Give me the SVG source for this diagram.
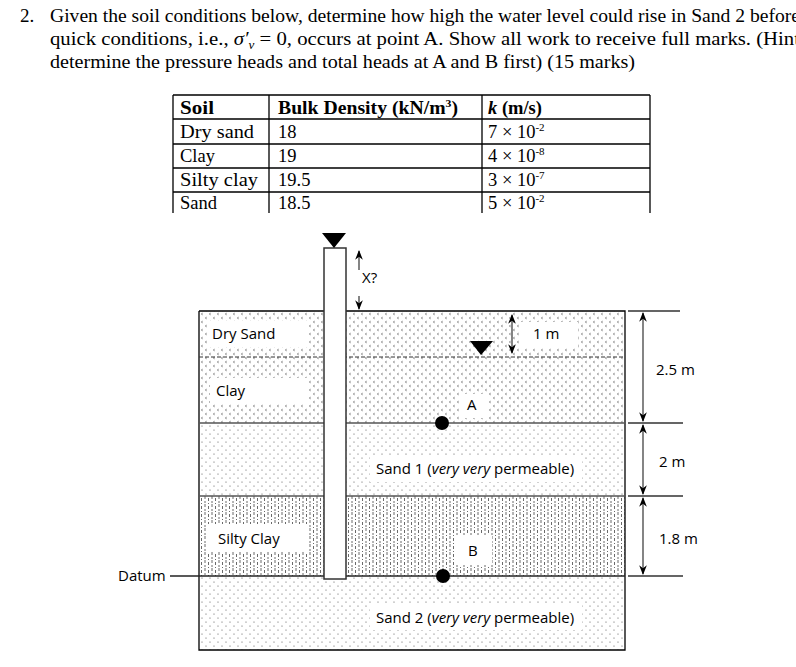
<svg xmlns="http://www.w3.org/2000/svg" width="796" height="667" viewBox="0 0 796 667">
<style>
.q{font-family:"Liberation Serif",serif;font-size:19px;fill:#000}
.t{font-family:"Liberation Serif",serif;font-size:18.5px;fill:#000}
.s{font-family:"Open Sans","DejaVu Sans",sans-serif;font-size:15px;fill:#000}
.ln{stroke:#000;stroke-width:1.3;fill:none}
.dim{stroke:#333;stroke-width:1.2;fill:none}
.bg{fill:#fff}
</style>
<defs>
<pattern id="pc" width="8" height="8" patternUnits="userSpaceOnUse">
<rect width="8" height="8" fill="#fff"/>
<path d="M3 1 L1 2 L3 3 M7 5 L5 6 L7 7" stroke="#777" stroke-width="0.6" fill="none"/>
</pattern>
<pattern id="pd" width="8" height="8" patternUnits="userSpaceOnUse">
<rect width="8" height="8" fill="#fff"/>
<circle cx="2" cy="2" r="0.6" fill="#555"/><circle cx="6" cy="6" r="0.6" fill="#555"/>
</pattern>
<pattern id="pv" width="7" height="8" patternUnits="userSpaceOnUse">
<rect width="7" height="8" fill="#fff"/>
<path d="M2 0 V3 M2 5 V7 M5.5 2 V5 M5.5 7 V8" stroke="#444" stroke-width="0.8"/>
</pattern>
<marker id="ar" viewBox="0 0 10 10" refX="9" refY="5" markerWidth="8" markerHeight="8" orient="auto-start-reverse">
<path d="M0 1 L10 5 L0 9 L3 5 Z" fill="#000"/>
</marker>
</defs>

<g id="question">
<text class="q" x="20" y="22">2.</text>
<text class="q" x="50" y="22" textLength="750" lengthAdjust="spacingAndGlyphs">Given the soil conditions below, determine how high the water level could rise in Sand 2 before</text>
<text class="q" x="50" y="45" textLength="750" lengthAdjust="spacingAndGlyphs">quick conditions, i.e., <tspan font-style="italic">σ′<tspan font-size="12" dy="4">v</tspan></tspan><tspan dy="-4"> = 0, occurs at point A. Show all work to receive full marks. (Hint</tspan></text>
<text class="q" x="50" y="68" textLength="585" lengthAdjust="spacingAndGlyphs">determine the pressure heads and total heads at A and B first) (15 marks)</text>
</g>

<g id="table">
<path class="ln" d="M173 95 H650 M173 119 H650 M173 144 H650 M173 168 H650 M173 192 H650 M173 95 V213 M269 95 V213 M482 95 V213 M650 95 V213"/>
<text class="t" x="180" y="114" font-weight="bold" textLength="34" lengthAdjust="spacingAndGlyphs">Soil</text>
<text class="t" x="278" y="114" font-weight="bold" textLength="180" lengthAdjust="spacingAndGlyphs">Bulk Density (kN/m<tspan font-size="11" dy="-7">3</tspan><tspan dy="7">)</tspan></text>
<text class="t" x="488" y="114" font-weight="bold"><tspan font-style="italic">k</tspan> (m/s)</text>
<text class="t" x="180" y="138" textLength="74" lengthAdjust="spacingAndGlyphs">Dry sand</text>
<text class="t" x="180" y="162">Clay</text>
<text class="t" x="180" y="186" textLength="78" lengthAdjust="spacingAndGlyphs">Silty clay</text>
<text class="t" x="180" y="209">Sand</text>
<text class="t" x="278" y="138">18</text>
<text class="t" x="278" y="162">19</text>
<text class="t" x="278" y="186">19.5</text>
<text class="t" x="278" y="209">18.5</text>
<text class="t" x="488" y="138">7 × 10<tspan font-size="11" dy="-7">-2</tspan></text>
<text class="t" x="488" y="162">4 × 10<tspan font-size="11" dy="-7">-8</tspan></text>
<text class="t" x="488" y="186">3 × 10<tspan font-size="11" dy="-7">-7</tspan></text>
<text class="t" x="488" y="209">5 × 10<tspan font-size="11" dy="-7">-2</tspan></text>
</g>

<g id="layers">
<rect x="199" y="311" width="426" height="112" fill="url(#pc)"/>
<rect x="199" y="423" width="426" height="73" fill="url(#pd)"/>
<rect x="199" y="496" width="426" height="80" fill="url(#pv)"/>
<rect x="199" y="576" width="426" height="74" fill="url(#pd)"/>
<path class="ln" d="M199 311 V650 H625 V311 H199" stroke="#333"/>
<path d="M199 357 H625" stroke="#333" stroke-width="1" stroke-dasharray="4 2"/>
<path d="M199 423 H625 M199 496 H625" stroke="#555" stroke-width="1.5"/>
</g>

<g id="labels">
<rect class="bg" x="208" y="321" width="100" height="26"/><text class="s" x="212" y="339">Dry Sand</text>
<rect class="bg" x="210" y="378" width="98" height="26"/><text class="s" x="216" y="396">Clay</text>
<rect class="bg" x="460" y="394" width="28" height="24"/><text class="s" x="467" y="410">A</text>
<rect class="bg" x="520" y="322" width="58" height="26"/><text class="s" x="533" y="339">1 m</text>
<rect class="bg" x="370" y="456" width="212" height="26"/><text class="s" x="376" y="474">Sand 1 (<tspan font-style="italic">very very</tspan> permeable)</text>
<rect class="bg" x="208" y="524" width="100" height="28"/><text class="s" x="218" y="544">Silty Clay</text>
<rect class="bg" x="456" y="535" width="36" height="30"/><text class="s" x="468" y="556">B</text>
<rect class="bg" x="370" y="604" width="212" height="26"/><text class="s" x="376" y="623">Sand 2 (<tspan font-style="italic">very very</tspan> permeable)</text>
</g>

<g id="datum">
<text class="s" x="118" y="581">Datum</text>
<path d="M170 576 H625" stroke="#222" stroke-width="1.5"/>
</g>

<g id="piezometer">
<rect x="324" y="248" width="22" height="331" fill="#fff" stroke="#333" stroke-width="1.5"/>
<path d="M322 233 H346 L334 248 Z" fill="#000"/>
</g>

<g id="watertable">
<path d="M470 341 H493 L481 355 Z" fill="#000"/>
</g>

<g id="points">
<circle cx="442" cy="423" r="7" fill="#000"/>
<circle cx="443" cy="576" r="7" fill="#000"/>
</g>

<g id="connectors">
<path class="dim" d="M359 270 V251" marker-end="url(#ar)"/>
<path class="dim" d="M359 296 V309" marker-end="url(#ar)"/>
<path class="dim" d="M512 315 V353" marker-start="url(#ar)" marker-end="url(#ar)" stroke-width="1"/>
<path d="M628 311 H680 M628 423 H683 M628 496 H683 M628 576 H683" stroke="#333" stroke-width="1.3"/>
<path class="dim" d="M643 313 V421" marker-start="url(#ar)" marker-end="url(#ar)"/>
<path class="dim" d="M643 425 V494" marker-start="url(#ar)" marker-end="url(#ar)"/>
<path class="dim" d="M643 498 V574" marker-start="url(#ar)" marker-end="url(#ar)"/>
</g>
<g id="dimlabels">
<text class="s" x="362" y="283">X?</text>
<text class="s" x="656" y="375">2.5 m</text>
<text class="s" x="659" y="467">2 m</text>
<text class="s" x="659" y="544">1.8 m</text>
</g>
</svg>
